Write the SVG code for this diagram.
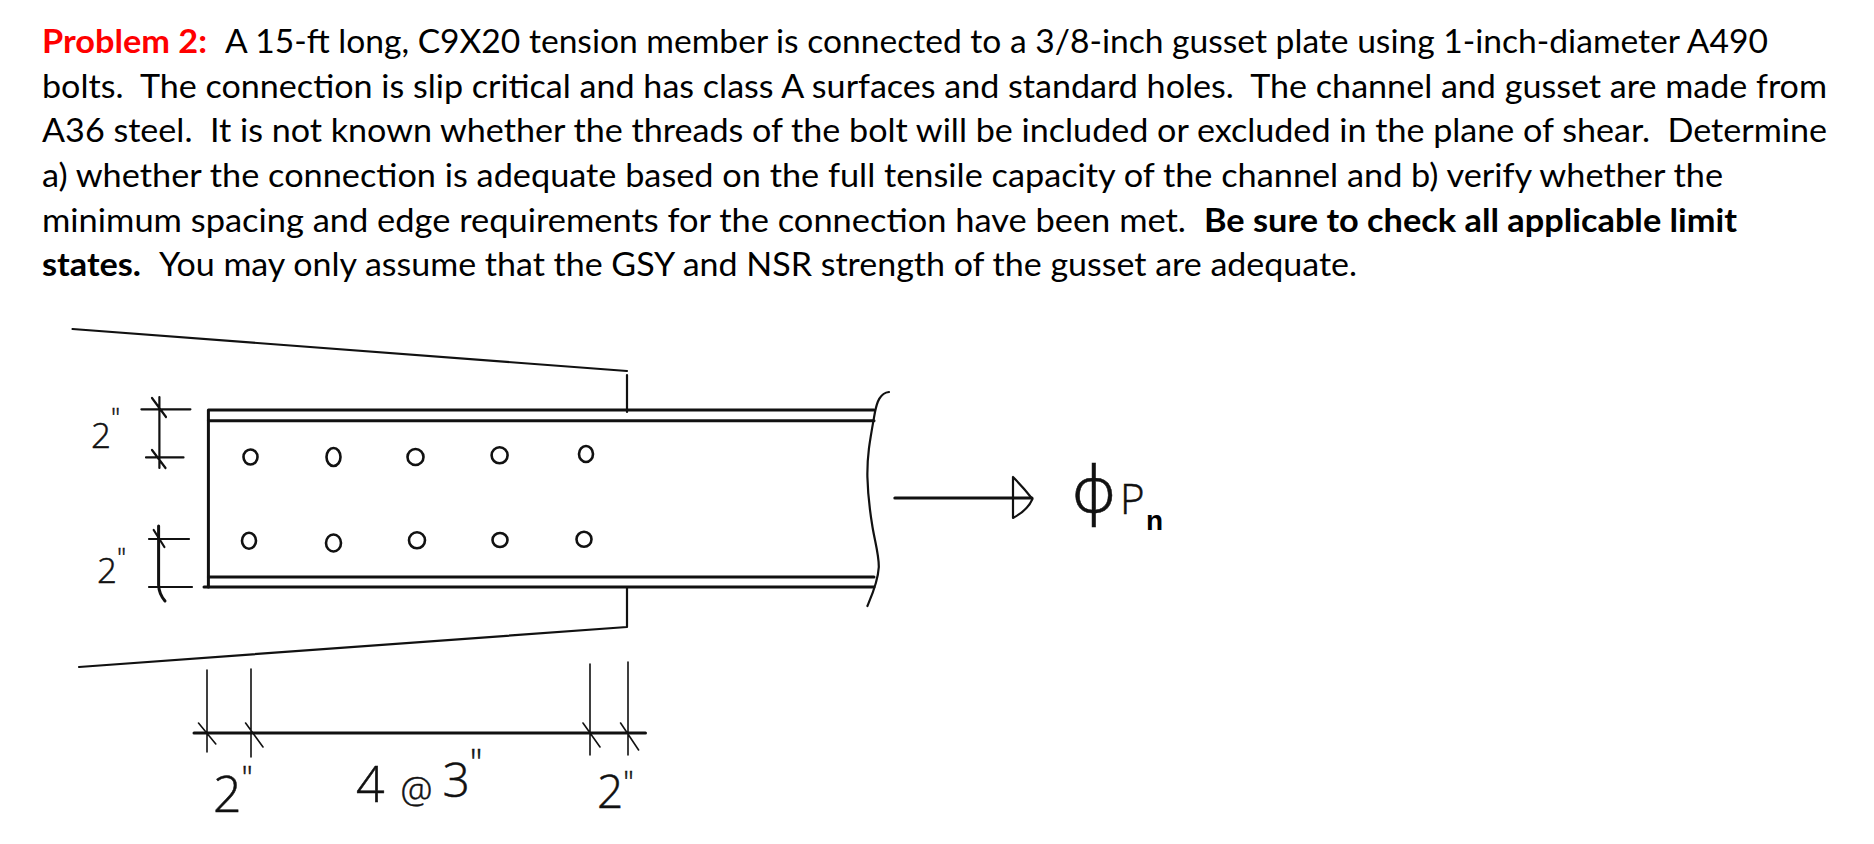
<svg xmlns="http://www.w3.org/2000/svg" width="1874" height="844" viewBox="0 0 1874 844">
<style>
.t{font-family:Lato,"Open Sans",Carlito,sans-serif;font-size:33px;fill:#000;white-space:pre}
.b{font-weight:700}
.r{fill:#f00;font-weight:700}
.h{font-family:"Open Sans","Liberation Sans",sans-serif;font-weight:300;fill:#111;stroke:#111;stroke-width:.5}
.s{fill:none;stroke:#111;stroke-linecap:round;stroke-linejoin:round}
.w1{stroke-width:1.6}.w2{stroke-width:2.2}.w3{stroke-width:3}
.hole{fill:#fff;stroke:#111;stroke-width:2.6}
</style>
<rect width="1874" height="844" fill="#fff"/>
<g id="problem-text">
<text class="t r" x="42" y="53" textLength="165" lengthAdjust="spacingAndGlyphs">Problem 2:</text>
<text class="t" x="225" y="53" textLength="1543" lengthAdjust="spacingAndGlyphs">A 15-ft long, C9X20 tension member is connected to a 3/8-inch gusset plate using 1-inch-diameter A490</text>
<text class="t" x="42" y="97.6" textLength="1785" lengthAdjust="spacingAndGlyphs" xml:space="preserve">bolts.  The connection is slip critical and has class A surfaces and standard holes.  The channel and gusset are made from</text>
<text class="t" x="42" y="142.3" textLength="1785" lengthAdjust="spacingAndGlyphs" xml:space="preserve">A36 steel.  It is not known whether the threads of the bolt will be included or excluded in the plane of shear.  Determine</text>
<text class="t" x="42" y="187" textLength="1681" lengthAdjust="spacingAndGlyphs">a) whether the connection is adequate based on the full tensile capacity of the channel and b) verify whether the</text>
<text class="t" x="42" y="231.6" textLength="1144" lengthAdjust="spacingAndGlyphs">minimum spacing and edge requirements for the connection have been met.</text>
<text class="t b" x="1204" y="231.6" textLength="533" lengthAdjust="spacingAndGlyphs">Be sure to check all applicable limit</text>
<text class="t b" x="42" y="276" textLength="99" lengthAdjust="spacingAndGlyphs">states.</text>
<text class="t" x="159" y="276" textLength="1198" lengthAdjust="spacingAndGlyphs">You may only assume that the GSY and NSR strength of the gusset are adequate.</text>
</g>
<g id="gusset-plate">
<path class="s w2" d="M72.5 329 L627 371"/>
<path class="s w2" d="M627 375 V412"/>
<path class="s w2" d="M79 667 L627 627 V587"/>
</g>
<g id="channel">
<path class="s w3" d="M208.4 587 V410 H874"/>
<path class="s w3" d="M208.4 420.7 H874"/>
<path class="s w3" d="M208.4 577 H874"/>
<path class="s w3" d="M204 587 H874"/>
<path class="s w2" d="M889 392 C880 393 877 402 875 412 C870 440 867 455 867.4 477 C868 500 870 512 872.5 527 C875 542 879 555 878.8 567 C878 582 872 595 867.4 606"/>
</g>
<g id="bolts">
<ellipse class="hole" cx="250.5" cy="457" rx="7" ry="7.5"/>
<ellipse class="hole" cx="333.5" cy="457" rx="7" ry="9"/>
<ellipse class="hole" cx="415.5" cy="457" rx="8" ry="8"/>
<ellipse class="hole" cx="499.6" cy="455.3" rx="8" ry="8"/>
<ellipse class="hole" cx="586" cy="454" rx="7" ry="8"/>
<ellipse class="hole" cx="249" cy="540.7" rx="7" ry="8"/>
<ellipse class="hole" cx="333.5" cy="543" rx="7.5" ry="8.5"/>
<ellipse class="hole" cx="417" cy="540.3" rx="8" ry="8"/>
<ellipse class="hole" cx="500" cy="540" rx="7.5" ry="7"/>
<ellipse class="hole" cx="584" cy="539.3" rx="7.5" ry="7.5"/>
</g>
<g id="connectors">
<g id="dim-left">
<path class="s w2" d="M159.4 397 V468 M141.4 409.3 H190.4 M146 457.4 H183.5 M152 398 L166 417 M152 450 L165.5 468"/>
<path class="s w3" d="M158.6 526 V585 Q159 594 165 601"/>
<path class="s w2" d="M149 539 H189 M149 587 H192 M153.7 530 L164.4 547"/>
</g>
<g id="dim-bottom">
<path class="s w3" d="M194 733 H645.5"/>
<path class="s w1" d="M207 670 V752 M251 669 V757 M590 664 V755 M628 662 V755 M198.5 723 L215.8 744 M245.6 723 L263 747 M583 723 L600 747 M620.6 723 L638.6 750"/>
</g>
<g id="force-arrow">
<path class="s w3" d="M894.8 498 H1032"/>
<path class="s w2" d="M1013 477 V518 Q1028 510 1032.4 499 Q1024 488 1013 477"/>
</g>
</g>
<g id="labels">
<text class="h" x="91" y="448" font-size="35">2<tspan dy="-22" font-size="26">"</tspan></text>
<text class="h" x="97" y="583" font-size="35">2<tspan dy="-17" font-size="26">"</tspan></text>
<text class="h" x="213" y="812" font-size="50">2<tspan dy="-24" font-size="32">"</tspan></text>
<text class="h" x="356" y="802" font-size="50">4<tspan dx="16" dy="1" font-size="36">@</tspan><tspan dx="10" dy="-6" font-size="48">3</tspan><tspan dy="-22" font-size="36">"</tspan></text>
<text class="h" x="597" y="808" font-size="46">2<tspan dy="-16" font-size="30">"</tspan></text>
<text class="h" x="1072" y="512" font-size="64" style="font-family:'Noto Sans','DejaVu Sans',sans-serif">ϕ</text>
<text class="h" x="1120" y="514" font-size="42">P</text>
<text x="1146" y="530" font-family="'Liberation Sans',sans-serif" font-weight="700" font-size="28" fill="#000">n</text>
</g>
</svg>
